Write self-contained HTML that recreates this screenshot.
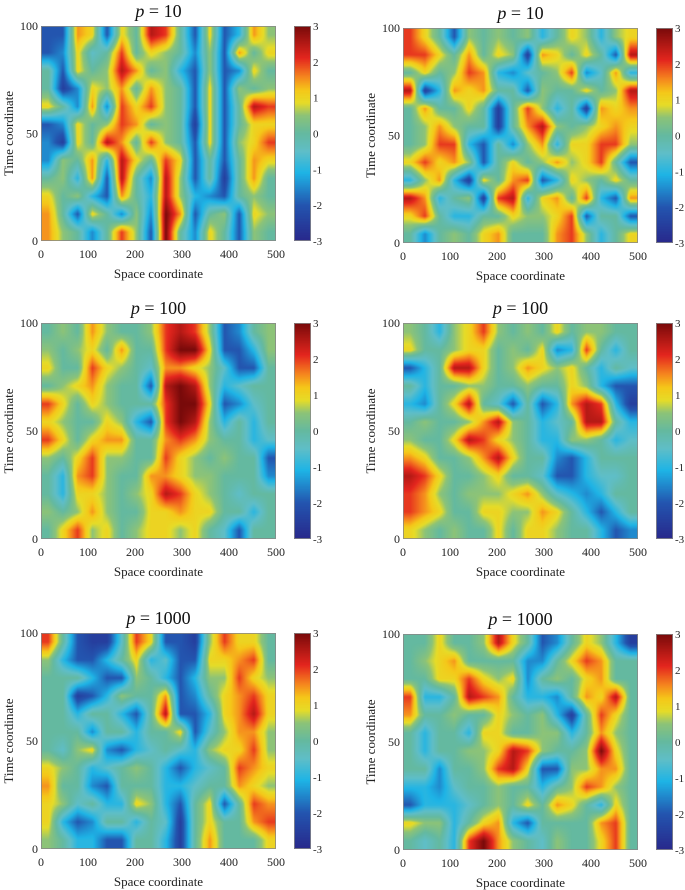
<!DOCTYPE html>
<html><head><meta charset="utf-8">
<style>
html,body{margin:0;padding:0;background:#fff;}
#root{position:relative;width:685px;height:890px;overflow:hidden;font-family:"Liberation Serif",serif;}
canvas{position:absolute;}
svg{position:absolute;left:0;top:0;}
</style></head>
<body>
<div id="root">
<svg id="ov" width="685" height="890"></svg>
</div>
<script>
// ---- data (rows: time 100 -> 0, cols: space 0 -> 500) ----
const gridA = [
[-2,-2,1.5,1,-2,1,0,2.5,2,0,-2,1,-2,-1,1.5,0.5],
[-2,-1.5,1,-0.5,0,2,0,1,0.5,0,-1.5,0.5,-2,1.5,0,1],
[0,-2,1,0,0.5,2.5,1.5,0,0.5,-1,-2,0.5,-2,-1.5,1,0],
[0,-2.5,-1.5,1,0.5,1.5,0,1.5,0.5,0,-2,1,-2,0.5,0,0.5],
[1,0,-1.5,1.5,-1.5,2,1,2,0.5,0,-2,1,-2,0,2.5,2],
[-2,-1.5,1,0,0.5,2,1.5,0,0.5,0,-2.5,1,-2,0,1,1],
[-1.5,-2.5,1,0,2.5,1.5,0,2,0.5,0,-2,1,-2,0.5,1,2],
[-1.5,0.5,0,1.5,-1,2.5,1,0,2,1,-2,0,-2,0,1.5,1],
[0,0.5,-1,1.5,-2,2.5,0,-1.5,2.5,0.5,-2,0,-2.5,0,1.5,0],
[1,0,0.5,-1,-2,1.5,0,-1,2.5,0.5,-1,-1.5,-2,0,0.5,0],
[1.5,0,-2,1,0,-1.5,0.5,-1.5,3,1.5,-2,0,0.5,-2,1,0.5],
[1.5,0.5,0,-1.5,0,2,0.5,-2,3,0,-1.5,1,0,-2,0.5,0]];
const gridB = [
[2,1,0,-2,0.5,0,0.5,0,0.5,-1,0,1,0.5,-1,0.5,1],
[2,2,1,0,1.5,0,1,0.5,-2.5,1.5,1,0,1,0,-2,2.5],
[0,1,0,0.5,2,1.5,-1,-1.5,-0.5,0,0.5,2,-1.5,-0.5,1.5,-1],
[2.5,-2.5,-1,1.5,1,1.5,0,0,-2,0.5,0,0,1,0,0.5,2.5],
[0,1.5,0,0,1,0,-2.5,0,2,0.5,-1,0,-2.5,1.5,1,1.5],
[0,0.5,1.5,0.5,0,0,-2.5,0,1.5,2.5,0.5,0,0.5,1,1.5,1],
[0,0.5,2,2,-1,-2,0,-1.5,0.5,1.5,-1,1,1,2,2,0.5],
[1,2,1,1.5,0.5,-2,0,1,0,0.5,1.5,0.5,1,2,0,-2],
[-1,0.5,1.5,-1,-2.5,1,0,1.5,2,-2,-1,1,0.5,0,1,0],
[2.5,1.5,-1,0,0.5,-2.5,2,2.5,-1,1,1.5,0,2,-1,-2,1.5],
[1,2,0,-1,-1,0,0,1,0.5,0.5,1,2,-2,0,0,-2],
[0,-1.5,0,0.5,0,1,1.5,0,0,0,1.5,2,0.5,-1,0,1]];
const gridC = [
[0,0.5,0,1.5,0.5,0,0,0.5,2,2.5,2,0.5,-2,-1.5,0,0.5],
[0.5,0,0.5,1,0,1.5,0,0,2,3,3,1,-2,-2,-1,0.5],
[1,0,0,2,1,0.5,0,-0.5,1.5,1.5,1,0.5,-0.5,-2,-2,0],
[0,0.5,1,1.5,0.5,0,0,-2,2.5,3,2.5,0.5,-1,-0.5,0,0],
[2,1,0,1,0.5,0,0,0,2,3,3,1,-2,-1.5,-0.5,0],
[1,0.5,0,0,1,0.5,-1,-2,2,3,2.5,0.5,-1,0,-1,0],
[2,1,0,1,1.5,1.5,0,0,1.5,2,1.5,0.5,0,0,-1,-0.5],
[0.5,0,1,2,0.5,0.5,0,0,2,1,0.5,0,0.5,0,0,-2],
[0,-1,1.5,2,0.5,0,0,1.5,1.5,1,0.5,0.5,0,0,0,-1.5],
[0,-1,1,1,0.5,0,0.5,1,2.5,2,1,0.5,0,-0.5,0,0],
[0.5,0,0.5,1.5,0.5,0,0,1,1,1.5,1,1,0,0,-1,0],
[0,1,2,0.5,1,0,0.5,1,1,0.5,1,0,-0.5,-2,0,0]];
const gridD = [
[0.5,0,-1,0.5,1,2,0.5,0,0.5,0,1,0,0.5,0.5,0,0],
[1,0,0,0.5,1,1,0,0.5,0,1,-1.5,-1,2,0,-1,0],
[-2,-1,0,2.5,2.5,1,0,0.5,1.5,1,0.5,1,0,-1,0,-0.5],
[0,-1,0,0,0.5,0.5,0,0,0.5,0,0,1,0.5,-1,-2,-2],
[-1,-1.5,0,1,2.5,0,-0.5,-2,0,-2,-1,1.5,2.5,2,-1,-2.5],
[0,0.5,0,0,0.5,1.5,2.5,0.5,0,-1,-0.5,0,2.5,2.5,0,-1],
[0.5,0,0,1,2.5,2,1,0.5,0,-1,-1,0.5,0.5,0,-1,-0.5],
[1.5,1,0,0,0.5,1.5,2.5,1,0,0,-1.5,-2,-1,0,0,0],
[2.5,2,1,0,0,0.5,1,0,0,-0.5,-2,-2,-1,-0.5,-0.5,0],
[2,1.5,0.5,0,0.5,0.5,0.5,1,1.5,0.5,-0.5,-1,-1.5,-1,0,0],
[2,1.5,1,0,0,1,1,0.5,0.5,1.5,1,0,-1,-2,-1,0],
[1,0.5,0,0.5,0,0,1,0,1,1,0.5,0,0,-1,-2,-1.5]];
const gridE = [
[2,0,-2,-2.5,-2.5,-0.5,2,1,-2,-2,-2.5,0.5,2,1,1,0],
[0.5,-1,-2,-2,-1,0,1,-1,-0.5,-2,-2,1,1,1.5,2,0],
[0,0,0,-1,-2,-2,0.5,0,-1,-2,-1,0.5,0.5,2,1,0.5],
[0,0,-2.5,-2,-1,0.5,0,0,1.5,-2,-1.5,0,1,1.5,2,1],
[0,0,-1,0,0,-1,-2,0,2.5,-2,-2,-1,1,1.5,2.5,1],
[0,0,0,-1.5,0,0,-1,0,0,1,-2,-0.5,0.5,1.5,1.5,0.5],
[0,-0.5,0.5,1,-1.5,-2,-1,-0.5,0,-0.5,-1,0.5,1,1,2,0.5],
[1,0.5,0,-1,-0.5,0,0.5,0,-1,-2,-1,-0.5,0,2,1.5,1],
[1.5,0,0,-1.5,-2,0,0,0,-1,-1,-0.5,0,0,1.5,1,0.5],
[1,0.5,-0.5,0,-1,-1,1,0.5,-1,-2,0,1,-2,0,2,1.5],
[1,-1,-2,-1.5,0,0,-1,0,-0.5,-2.5,0,1,0,0,1.5,2],
[0.5,0,-1,-1,-2,-2,0,0,-1,-2.5,0,1.5,0,0,0,1]];
const gridF = [
[0,0,1,0,0,0.5,2.5,1,0,-2,-1.5,0,1,0.5,-1,-2.5],
[0,0.5,1,1.5,0,0,0,0,-1.5,-1.5,0,1,2,1.5,0,0],
[0,0,1,1,2,1,0.5,1,-1.5,0,0.5,0,1,1.5,0,0],
[2,-1,-1,0,2.5,2,1.5,0,-1,-1,-1.5,0,1.5,1,2.5,0],
[1.5,0,0,0.5,0,0,1,0.5,0,0.5,-1,-2.5,0,2,1,0],
[0,-1,0,0,-1,1,1,0,0,0.5,0.5,-1,0,1.5,0.5,0],
[0,-1,0,0,0.5,0.5,1,2.5,2,0.5,0,0,0.5,3,1,0],
[0,0,-1.5,0,0,0.5,2,2.5,1,-2,-2,0.5,0.5,1.5,1.5,0],
[-1,-1,-1.5,-0.5,0,0,0.5,0,0,-1,0,0.5,2,1.5,0.5,0],
[-2,-1,-1,-1,-0.5,0,0.5,0,1,0,1.5,1,0,-1,1,0],
[1,0.5,0.5,-1,0,1,1.5,-1,-2,0,0,0,0,1.5,2,0],
[0,-0.5,0,-1,2,3,1.5,0.5,0,-0.5,0.5,0,0,1,2,0]];
const xTicks = [0,100,200,300,400,500];
const yTicks = [0,50,100];
const cbTicks = [-3,-2,-1,0,1,2,3];
const titles = ["10","10","100","100","1000","1000"];

// ---- layout ----
const panels = [
 {g:gridA,x:41,y:26,w:235,h:215,cb:294,name:'p10-left'},
 {g:gridB,x:403,y:28,w:235,h:215,cb:656,name:'p10-right'},
 {g:gridC,x:41,y:323,w:235,h:216,cb:294,name:'p100-left'},
 {g:gridD,x:403,y:323,w:235,h:216,cb:656,name:'p100-right'},
 {g:gridE,x:41,y:633,w:235,h:216,cb:294,name:'p1000-left'},
 {g:gridF,x:403,y:634,w:235,h:216,cb:656,name:'p1000-right'}];

const stops=[[-3,[40,40,140]],[-2,[35,85,175]],[-1.1,[30,180,230]],[-0.5,[95,190,200]],[0,[100,185,160]],[0.5,[140,195,120]],[0.85,[230,220,40]],[1.2,[245,200,25]],[1.6,[245,130,30]],[2.1,[228,38,30]],[3,[120,10,10]]];
function cmap(v){
 if(v<=stops[0][0])return stops[0][1];
 for(let i=1;i<stops.length;i++){
  if(v<=stops[i][0]){const a=stops[i-1],b=stops[i];const t=(v-a[0])/(b[0]-a[0]);
   return [0,1,2].map(k=>a[1][k]+(b[1][k]-a[1][k])*t);}
 }
 return stops[stops.length-1][1];
}
function sample(g,u,v){
 const R=g.length,C=g[0].length;
 let cx=u*C-0.5, cy=v*R-0.5;
 cx=Math.max(0,Math.min(C-1,cx)); cy=Math.max(0,Math.min(R-1,cy));
 const x0=Math.floor(cx),y0=Math.floor(cy),x1=Math.min(C-1,x0+1),y1=Math.min(R-1,y0+1);
 const fx=cx-x0,fy=cy-y0;
 return g[y0][x0]*(1-fx)*(1-fy)+g[y0][x1]*fx*(1-fy)+g[y1][x0]*(1-fx)*fy+g[y1][x1]*fx*fy;
}
const root=document.getElementById('root');
const ov=document.getElementById('ov');
const NS='http://www.w3.org/2000/svg';
function txt(x,y,s,opt){
 const t=document.createElementNS(NS,'text');
 t.setAttribute('x',x);t.setAttribute('y',y);
 t.setAttribute('font-family','Liberation Serif, serif');
 t.setAttribute('font-size',opt.size||12);
 t.setAttribute('fill','#222');
 t.setAttribute('text-anchor',opt.anchor||'middle');
 if(opt.rot)t.setAttribute('transform','rotate(-90 '+x+' '+y+')');
 t.textContent=s;ov.appendChild(t);return t;
}
panels.forEach((p,pi)=>{
 const c=document.createElement('canvas');
 c.width=p.w;c.height=p.h;c.style.left=p.x+'px';c.style.top=p.y+'px';
 
 
 root.insertBefore(c,ov);
 const ctx=c.getContext('2d');const im=ctx.createImageData(p.w,p.h);
 for(let j=0;j<p.h;j++)for(let i=0;i<p.w;i++){
  const col=cmap(sample(p.g,(i+0.5)/p.w,(j+0.5)/p.h));const k=(j*p.w+i)*4;
  im.data[k]=col[0];im.data[k+1]=col[1];im.data[k+2]=col[2];im.data[k+3]=255;}
 ctx.putImageData(im,0,0);
 const cb=document.createElement('canvas');cb.width=17;cb.height=p.h;
 cb.style.left=p.cb+'px';cb.style.top=p.y+'px';
 
 
 root.insertBefore(cb,ov);
 const bx=cb.getContext('2d');
 for(let j=0;j<p.h;j++){const v=3-6*(j+0.5)/p.h;const col=cmap(v);
  bx.fillStyle='rgb('+col.map(Math.round).join(',')+')';bx.fillRect(0,j,17,1);}
 [[p.x,p.w],[p.cb,17]].forEach(([fx,fw])=>{const r=document.createElementNS(NS,'rect');
  r.setAttribute('x',fx+0.5);r.setAttribute('y',p.y+0.5);r.setAttribute('width',fw-1);r.setAttribute('height',p.h-1);
  r.setAttribute('fill','none');r.setAttribute('stroke','#888');r.setAttribute('stroke-width','0.8');
  ov.appendChild(r);});
 xTicks.forEach(v=>{const t=txt(p.x+v/500*p.w,p.y+p.h+17,String(v),{});
  });
 yTicks.forEach(v=>{const t=txt(p.x-3,p.y+p.h-v/100*p.h+4,String(v),{anchor:'end'});
  });
 cbTicks.forEach(v=>{const t=txt(p.cb+19,p.y+(3-v)/6*p.h+4,String(v),{anchor:'start',size:11});
  });
 const xl=txt(p.x+p.w/2,p.y+p.h+37,'Space coordinate',{size:13});
 
 const yl=txt(p.x-28,p.y+p.h/2,'Time coordinate',{size:13,rot:true});
 
 const tt=document.createElementNS(NS,'text');
 tt.setAttribute('x',p.x+p.w/2);tt.setAttribute('y',p.y-9);
 tt.setAttribute('text-anchor','middle');tt.setAttribute('font-family','Liberation Serif, serif');
 tt.setAttribute('font-size','18');tt.setAttribute('fill','#111');
 tt.innerHTML='<tspan font-style="italic">p</tspan> = '+titles[pi];
 
 ov.appendChild(tt);
});
</script>
</body></html>
